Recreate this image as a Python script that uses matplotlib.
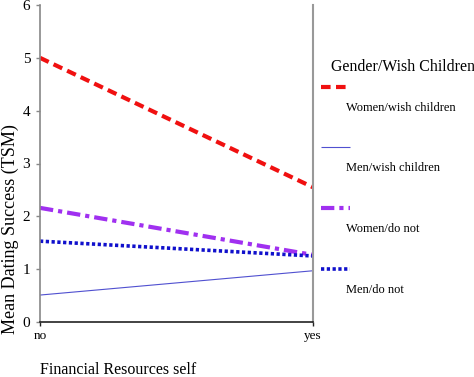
import matplotlib
matplotlib.use("Agg")
import matplotlib.pyplot as plt
from matplotlib.lines import Line2D

plt.rcParams['font.family'] = ['Liberation Serif', 'DejaVu Serif']

categories = ["no", "yes"]
series_names = ["Women/wish children", "Men/wish children", "Women/do not", "Men/do not"]
women_wish = [5.0, 2.55]
men_wish = [0.51, 0.97]
women_not = [2.16, 1.27]
men_not = [1.53, 1.25]
yticks = [0, 1, 2, 3, 4, 5, 6]

styles = [
    dict(color="#F01010", lw=3.0, dashes=(2.3, 1.3)),
    dict(color="#5050D0", lw=0.8, linestyle="-"),
    dict(color="#A030F0", lw=3.0, dashes=(3.2, 1.2, 1.0, 1.2)),
    dict(color="#1010CC", lw=2.6, dashes=(0.9, 0.7)),
]
values = [women_wish, men_wish, women_not, men_not]

fig = plt.figure(figsize=(4.74, 3.77), dpi=100)
ax = fig.add_axes([40/474, 1-322/377, (313-40)/474, (322-5)/377])

x = list(range(len(categories)))
for vals, st in zip(values, styles):
    ax.plot(x, vals, solid_capstyle="butt", dash_capstyle="butt", **st)

ax.set_xlim(0, 1)
ax.set_ylim(0, 6)
ax.set_xticks(x)
ax.set_xticklabels(categories, fontsize=9.5)
ax.set_yticks(yticks)
ax.set_yticklabels([str(t) for t in yticks], fontsize=11)
ax.spines['top'].set_visible(False)
ax.spines['left'].set_color("#888888")
ax.spines['right'].set_color("#999999")
ax.spines['right'].set_linewidth(1.5)
ax.spines['left'].set_linewidth(1.2)
ax.spines['bottom'].set_color("#222222")
ax.spines['bottom'].set_linewidth(1.2)
ax.tick_params(axis='y', length=3, width=1, color="#888888", pad=4)
ax.tick_params(axis='x', length=3, width=1, color="#222222", pad=3)

fig.text(10/474, 1-229/377, "Mean Dating Success (TSM)", fontsize=13, rotation=90,
         ha="center", va="center")
fig.text(40/474, 1-370/377, "Financial Resources self", fontsize=11.5, ha="left", va="center")

# legend
fig.text(331/474, 1-67/377, "Gender/Wish Children", fontsize=11.4, ha="left", va="center")
handle_y = [87, 147, 208, 269]
for name, st, hy in zip(series_names, styles, handle_y):
    yy = 1 - hy/377
    fig.add_artist(Line2D([321/474, 350/474], [yy, yy], transform=fig.transFigure,
                          solid_capstyle="butt", dash_capstyle="butt", **st))
    fig.text(346/474, 1-(hy+21)/377, name, fontsize=9, ha="left", va="center")

fig.savefig("out.png", dpi=100)
